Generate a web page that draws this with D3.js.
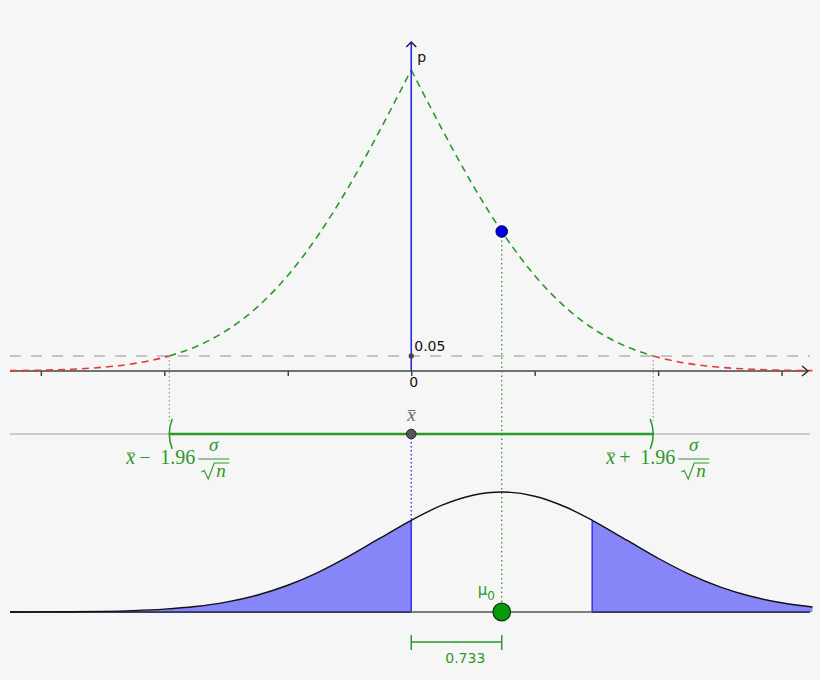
<!DOCTYPE html>
<html>
<head>
<meta charset="utf-8">
<script src="https://cdn.jsdelivr.net/npm/d3@7/dist/d3.min.js"></script>
<style>
  html, body { margin: 0; padding: 0; background: #f6f6f6; }
  svg { display: block; }
</style>
</head>
<body>
<svg id="chart" width="820" height="680"></svg>
<script>
// ---------- data ----------
const xTicks = [-3, -2, -1, 0, 1, 2, 3];
const tickLabels = ["", "", "", "0", "", "", ""];
// p-value curve (two-sided) as function of the hypothesised mean
const pX = [-3.25, -3, -2.75, -2.5, -2.25, -2, -1.96, -1.75, -1.5, -1.25, -1, -0.75, -0.5, -0.375, -0.25, -0.125, 0,
            0.125, 0.25, 0.375, 0.5, 0.75, 1, 1.25, 1.5, 1.75, 1.96, 2, 2.25, 2.5, 2.75, 3, 3.25];
const pV = [0.0012, 0.0027, 0.0060, 0.0124, 0.0244, 0.0455, 0.05, 0.0801, 0.1336, 0.2113, 0.3173, 0.4533, 0.617, 0.7077, 0.8026, 0.9005, 1,
            0.9005, 0.8026, 0.7077, 0.617, 0.4533, 0.3173, 0.2113, 0.1336, 0.0801, 0.05, 0.0455, 0.0244, 0.0124, 0.0060, 0.0027, 0.0012];
// sampling density centred on mu0 (relative height)
const densX = [-3.25, -3, -2.75, -2.5, -2.25, -2, -1.75, -1.5, -1.25, -1, -0.75, -0.5, -0.25, 0, 0.25, 0.5, 0.733,
               1, 1.25, 1.466, 1.75, 2, 2.25, 2.5, 2.75, 3, 3.25];
const densV = [0.0004, 0.0009, 0.0023, 0.0054, 0.0117, 0.0239, 0.0458, 0.0827, 0.140, 0.2228, 0.333, 0.4677, 0.617, 0.7644, 0.890, 0.973, 1,
               0.965, 0.875, 0.7644, 0.596, 0.448, 0.316, 0.210, 0.131, 0.0766, 0.0421];
const xBar = [0];
const mu0 = [0.733];
const pAtMu0 = [0.4636];
const alphaLevel = [0.05];
const ciBounds = [-1.96, 1.96];
const tailBounds = [0, 1.466];
const distLabel = ["0.733"];

// ---------- scales ----------
const svg = d3.select("#chart");
const W = 820, H = 680;
svg.append("rect").attr("width", W).attr("height", H).attr("fill", "#f6f6f6");

const x = d3.scaleLinear().domain([-3.25, 3.23]).range([10, 810]);
const yP = d3.scaleLinear().domain([0, 1]).range([371, 70]);
const yD = d3.scaleLinear().domain([0, 1]).range([612, 492]);
const yCI = 434;

const green = "#2b9a2b", red = "#e03a3a", blue = "#2a2ae6";

// ---------- gray 0.05 dashed line ----------
svg.append("line")
  .attr("x1", 10).attr("x2", 810)
  .attr("y1", yP(alphaLevel[0])).attr("y2", yP(alphaLevel[0]))
  .attr("stroke", "#b4b4b4").attr("stroke-width", 1.5)
  .attr("stroke-dasharray", "11 10");

// ---------- x axis ----------
const xAxis = d3.axisBottom(x)
  .tickValues(xTicks)
  .tickSize(5).tickSizeOuter(0).tickPadding(1)
  .tickFormat((d, i) => tickLabels[i]);
const gx = svg.append("g").attr("transform", `translate(0,${yP(0)})`).call(xAxis);
gx.select(".domain").remove();
gx.selectAll(".tick line").attr("stroke", "#444").attr("stroke-width", 1.5);
gx.selectAll(".tick text")
  .attr("font-family", "DejaVu Sans, sans-serif").attr("font-size", 14)
  .attr("fill", "#111").attr("dx", 2);
svg.append("line")
  .attr("x1", x.range()[0]).attr("x2", x.range()[1] - 2)
  .attr("y1", yP(0)).attr("y2", yP(0))
  .attr("stroke", "#444").attr("stroke-width", 1.5);

// ---------- p curve ----------
const pts = pX.map((v, i) => ({ x: v, p: pV[i] }));
const pLine = d3.line().x(d => x(d.x)).y(d => yP(d.p)).curve(d3.curveMonotoneX);
const crit = ciBounds[1];
const segs = [
  { data: pts.filter(d => d.x <= -crit), color: red },
  { data: pts.filter(d => d.x >= -crit && d.x <= 0), color: green },
  { data: pts.filter(d => d.x >= 0 && d.x <= crit), color: green },
  { data: pts.filter(d => d.x >= crit), color: red }
];
segs.forEach(s => {
  svg.append("path").attr("d", pLine(s.data))
    .attr("fill", "none").attr("stroke", s.color)
    .attr("stroke-width", 1.6).attr("stroke-dasharray", "7 5");
});

// x axis arrow head
const axR = x.range()[1] - 2;
svg.append("path")
  .attr("d", `M${axR - 6},${yP(0) - 5} L${axR},${yP(0)} L${axR - 6},${yP(0) + 5}`)
  .attr("fill", "none").attr("stroke", "#333").attr("stroke-width", 1.6);

// ---------- y axis ----------
const yTop = 42;
svg.append("line")
  .attr("x1", x(0)).attr("x2", x(0)).attr("y1", yP(0)).attr("y2", yTop)
  .attr("stroke", blue).attr("stroke-width", 1.6);
svg.append("path")
  .attr("d", `M${x(0) - 5},${yTop + 5} L${x(0)},${yTop} L${x(0) + 5},${yTop + 5}`)
  .attr("fill", "none").attr("stroke", "#1a1a55").attr("stroke-width", 1.5);
svg.append("text").attr("x", x(0) + 6).attr("y", 62)
  .attr("font-family", "DejaVu Sans, sans-serif").attr("font-size", 14).attr("fill", "#111")
  .text("p");

// 0.05 point + label
svg.append("circle").attr("cx", x(0)).attr("cy", yP(alphaLevel[0])).attr("r", 2.6).attr("fill", "#444");
svg.append("text").attr("x", x(0) + 3).attr("y", yP(alphaLevel[0]) - 5)
  .attr("font-family", "DejaVu Sans, sans-serif").attr("font-size", 14).attr("fill", "#111")
  .text(alphaLevel[0].toFixed(2));

// ---------- vertical guides ----------
ciBounds.forEach(b => {
  svg.append("line")
    .attr("x1", x(b)).attr("x2", x(b))
    .attr("y1", yP(alphaLevel[0])).attr("y2", yCI - 13)
    .attr("stroke", "#999").attr("stroke-width", 1.2).attr("stroke-dasharray", "1.5 2.5");
});
// green dotted from p-point to mu0
svg.append("line")
  .attr("x1", x(mu0[0])).attr("x2", x(mu0[0]))
  .attr("y1", yP(pAtMu0[0])).attr("y2", yD(0))
  .attr("stroke", green).attr("stroke-width", 1.3).attr("stroke-dasharray", "1.5 3");

// ---------- confidence interval row ----------
svg.append("line").attr("x1", 10).attr("x2", 810).attr("y1", yCI).attr("y2", yCI)
  .attr("stroke", "#bdbdbd").attr("stroke-width", 1.3);
svg.append("line").attr("x1", x(ciBounds[0])).attr("x2", x(ciBounds[1]))
  .attr("y1", yCI).attr("y2", yCI)
  .attr("stroke", green).attr("stroke-width", 2.6);
// parentheses
const xl = x(ciBounds[0]), xr = x(ciBounds[1]);
svg.append("path")
  .attr("d", `M${xl + 3},${yCI - 15} Q${xl - 3},${yCI} ${xl + 3},${yCI + 15}`)
  .attr("fill", "none").attr("stroke", green).attr("stroke-width", 1.6);
svg.append("path")
  .attr("d", `M${xr - 3},${yCI - 15} Q${xr + 3},${yCI} ${xr - 3},${yCI + 15}`)
  .attr("fill", "none").attr("stroke", green).attr("stroke-width", 1.6);

// blue dotted from x-bar to the density edge
const edgeH = densV[densX.indexOf(tailBounds[0])];
svg.append("line")
  .attr("x1", x(xBar[0])).attr("x2", x(xBar[0]))
  .attr("y1", yCI + 4).attr("y2", yD(edgeH))
  .attr("stroke", blue).attr("stroke-width", 1.3).attr("stroke-dasharray", "1.5 2.5");

// x-bar point and label
svg.append("circle").attr("cx", x(xBar[0])).attr("cy", yCI).attr("r", 4.8)
  .attr("fill", "#555").attr("stroke", "#222").attr("stroke-width", 1);
function xbar(g, px, py, size, color) {
  g.append("text").attr("x", px).attr("y", py)
    .attr("font-family", "Liberation Serif, serif").attr("font-style", "italic")
    .attr("font-size", size).attr("fill", color).text("x");
  g.append("line").attr("x1", px + 0.5).attr("x2", px + size * 0.42)
    .attr("y1", py - size * 0.55).attr("y2", py - size * 0.55)
    .attr("stroke", color).attr("stroke-width", 1);
}
xbar(svg, x(xBar[0]) - 4, 421, 19, "#666");

// CI labels
function ciLabel(L, sign) {
  const g = svg.append("g").attr("fill", green);
  const by = 464;
  xbar(g, L, by, 20, green);
  g.append("text").attr("x", L + 13).attr("y", by)
    .attr("font-family", "Liberation Serif, serif").attr("font-size", 20).attr("fill", green)
    .text(sign);
  g.append("text").attr("x", L + 34).attr("y", by)
    .attr("font-family", "Liberation Serif, serif").attr("font-size", 20).attr("fill", green)
    .text(ciBounds[1].toFixed(2));
  // fraction
  g.append("line").attr("x1", L + 72).attr("x2", L + 103).attr("y1", by - 5).attr("y2", by - 5)
    .attr("stroke", green).attr("stroke-width", 1);
  g.append("text").attr("x", L + 87.5).attr("y", by - 13).attr("text-anchor", "middle")
    .attr("font-family", "Liberation Serif, serif").attr("font-style", "italic")
    .attr("font-size", 19).attr("fill", green).text("σ");
  g.append("path")
    .attr("d", `M${L + 75},${by + 8} L${L + 78},${by + 6.5} L${L + 82},${by + 15} L${L + 88},${by - 1} L${L + 103},${by - 1}`)
    .attr("fill", "none").attr("stroke", green).attr("stroke-width", 1.1);
  g.append("text").attr("x", L + 90).attr("y", by + 13)
    .attr("font-family", "Liberation Serif, serif").attr("font-style", "italic")
    .attr("font-size", 19).attr("fill", green).text("n");
}
ciLabel(xl - 43, "\u2212");
ciLabel(xr - 47, "+");

// ---------- sampling distribution ----------
const dens = densX.map((v, i) => ({ x: v, h: densV[i] }));
const area = d3.area().x(d => x(d.x)).y0(yD(0)).y1(d => yD(d.h)).curve(d3.curveMonotoneX);
const dLine = d3.line().x(d => x(d.x)).y(d => yD(d.h)).curve(d3.curveMonotoneX);
const defs = svg.append("defs");
defs.append("clipPath").attr("id", "tailL").append("rect")
  .attr("x", 0).attr("y", 0).attr("width", x(tailBounds[0])).attr("height", H);
defs.append("clipPath").attr("id", "tailR").append("rect")
  .attr("x", x(tailBounds[1])).attr("y", 0).attr("width", W - x(tailBounds[1])).attr("height", H);

// baseline
svg.append("line").attr("x1", 10).attr("x2", 810).attr("y1", yD(0)).attr("y2", yD(0))
  .attr("stroke", "#555").attr("stroke-width", 1.6);
["tailL", "tailR"].forEach(id => {
  svg.append("path").attr("d", area(dens)).attr("clip-path", `url(#${id})`)
    .attr("fill", "#8686f8").attr("stroke", "none");
  svg.append("line").attr("x1", 10).attr("x2", 810).attr("y1", yD(0)).attr("y2", yD(0))
    .attr("clip-path", `url(#${id})`)
    .attr("stroke", "#26265a").attr("stroke-width", 1.6);
});
tailBounds.forEach(b => {
  const h = densV[densX.indexOf(b)];
  svg.append("line").attr("x1", x(b)).attr("x2", x(b)).attr("y1", yD(0)).attr("y2", yD(h))
    .attr("stroke", "#3a3af0").attr("stroke-width", 1.6);
});
svg.append("path").attr("d", dLine(dens))
  .attr("fill", "none").attr("stroke", "#111").attr("stroke-width", 1.4);

// mu0 point + label
svg.append("circle").attr("cx", x(mu0[0])).attr("cy", yD(0)).attr("r", 8.8)
  .attr("fill", "#0a990a").attr("stroke", "#063806").attr("stroke-width", 1.2);
const muT = svg.append("text").attr("x", x(mu0[0]) - 24).attr("y", 595)
  .attr("font-family", "DejaVu Sans, sans-serif").attr("font-size", 15).attr("fill", green);
muT.append("tspan").text("μ");
muT.append("tspan").attr("font-size", 12).attr("dy", 5).text("0");

// distance bracket
const by2 = 642;
svg.append("path")
  .attr("d", `M${x(xBar[0])},${by2 - 7} V${by2 + 8} M${x(xBar[0])},${by2} H${x(mu0[0])} M${x(mu0[0])},${by2 - 7} V${by2 + 8}`)
  .attr("fill", "none").attr("stroke", green).attr("stroke-width", 1.5);
svg.append("text").attr("x", x(xBar[0]) + 34).attr("y", 663)
  .attr("font-family", "DejaVu Sans, sans-serif").attr("font-size", 14).attr("fill", green)
  .text(distLabel[0]);

// blue point on p curve
svg.append("circle").attr("cx", x(mu0[0])).attr("cy", yP(pAtMu0[0])).attr("r", 5.8)
  .attr("fill", "#0000e6").attr("stroke", "#00003a").attr("stroke-width", 1);
</script>
</body>
</html>
